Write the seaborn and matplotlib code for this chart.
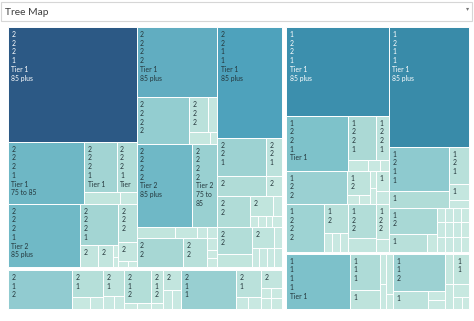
import matplotlib
matplotlib.use("Agg")
import matplotlib.pyplot as plt
import seaborn as sns
from matplotlib.patches import Rectangle
from matplotlib.colors import LinearSegmentedColormap
from matplotlib.textpath import TextPath
from matplotlib.font_manager import FontProperties

# ---------------- data ----------------
title = "Tree Map"
age_names = ["85 plus", "75 to 85", "65 to 75", "55 to 65", "45 to 55", "Under 45"]

codes = (["2221"] * 16 + ["2222"] * 17 + ["2211"] * 5 + ["2212"] * 9 + ["2211"] * 6
         + ["2122"] * 4 + ["2121"] * 3 + ["2122"] * 5 + ["2121"] * 3
         + ["2111"] + ["2112"] * 3 + ["2111"] * 5
         + ["1221"] * 7 + ["1222"] * 6 + ["1221"] * 2 + ["1222"] * 9
         + ["1211"] * 3 + ["1212"] * 4 + ["1211"] * 14
         + ["1111"] * 7 + ["1121"] * 4 + ["1122"] * 6)

tiers = [
    1, 1, 1, 1, 1, 1,
    2, 2, 2, 2, 2, 2, 3, 3, 3, 3,
    1, 1, 1, 1, 1, 1,
    2, 2, 2, 2, 2, 2, 3, 3, 3, 3, 3,
    1, 1, 2, 1, 2,
    1, 1, 1, 2, 2, 2, 2, 1, 3,
    2, 2, 3, 3, 3, 3,
    1, 1, 2, 2,
    1, 1, 2,
    1, 1, 2, 3, 3,
    1, 2, 2,
    1, 1, 1, 2, 1, 2, 2, 3, 3,
    1, 1, 1, 1, 2, 2, 2,
    1, 1, 1, 1, 2, 2, 3, 3,
    2, 2, 3, 3, 3, 3, 3, 1, 2,
    1, 1, 2, 1, 1, 2, 1, 1, 1,
    2, 2, 2, 2, 3, 3, 3, 3, 3, 3, 2, 2,
    1, 1, 2, 2, 2, 3, 3,
    1, 2, 2, 3, 1, 1, 2, 2, 3, 3,
]

age_idx = [
    0, 1, 2, 3, 4, 5,
    0, 1, 2, 3, 4, 5, 0, 1, 2, 3,
    0, 1, 2, 3, 4, 5,
    0, 1, 2, 3, 4, 5, 0, 1, 2, 3, 4,
    0, 1, 0, 2, 1,
    0, 1, 2, 0, 1, 2, 3, 3, 0,
    2, 3, 0, 1, 2, 3,
    0, 1, 0, 1,
    0, 1, 0,
    2, 3, 2, 0, 1,
    2, 1, 2,
    0, 0, 1, 0, 1, 0, 1, 0, 1,
    0, 1, 2, 3, 0, 1, 2,
    0, 1, 2, 3, 0, 1, 0, 1,
    2, 3, 0, 1, 2, 3, 4, 4, 4,
    0, 1, 0, 0, 1, 0, 2, 2, 3,
    0, 1, 2, 3, 0, 1, 2, 3, 4, 5, 4, 5,
    0, 1, 0, 1, 2, 0, 1,
    0, 0, 1, 0, 0, 1, 0, 1, 0, 1,
]

values = [
    # 2-2-2-1
    14700, 4710, 1610, 990, 430, 200,
    4570, 1560, 390, 345, 55, 50, 700, 343, 60, 55,
    # 2-2-2-2
    5650, 2410, 655, 330, 250, 80,
    4630, 2070, 437, 250, 115, 115, 1343, 696, 120, 80, 90,
    # 2-2-1-x
    7085, 1860, 600, 986, 320,
    990, 430, 170, 90, 80, 70, 100, 952, 442,
    480, 170, 140, 140, 140, 140,
    # 2-1-2-x
    2480, 840, 204, 156,
    540, 130, 120,
    884, 78, 78, 408, 72,
    357, 171, 152,
    # 2-1-1-x
    2130, 672, 144, 144, 380, 100, 110, 100, 110,
    # 1-2-2-x
    9050, 3402, 1204, 580, 200, 120, 95,
    2039, 560, 110, 100, 90, 79, 273, 165,
    1800, 696, 160, 160, 148, 935, 370, 455, 176,
    # 1-2-1-x
    9500, 2639, 1008, 722, 304, 152, 1264, 700, 180,
    120, 115, 115, 110, 120, 115, 115, 110, 120, 115, 115, 110,
    # 1-1-1-x
    3500, 1044, 551, 180, 150, 280, 105,
    # 1-1-2-x
    1935, 630, 153, 153, 240, 200, 450, 195, 96, 84,
]

# ---------------- layout structure (leaves consumed in order) ----------------
L = None
def C(*kids, gap=0.0):
    return ("c", list(kids), gap)
def R(*kids, gap=0.0):
    return ("r", list(kids), gap)

T2221 = R(R(L, C(L, R(C(L, L), C(L, L)))),
          C(L, R(L, C(L, L, R(L, L))), R(L, L, C(L, L))))
T2222 = R(R(L, C(L, R(C(L, L), C(L, L)))),
          R(C(L, L), C(L, L, L, L), C(L, L, R(L, L, L))))
LT31 = R(L, C(L, L), C(L, L), C(L, R(C(L, L), C(L, L, L, L))),
         C(R(L, L), R(C(L, L), C(L, L, L, L))))
LT = C(C(T2221, T2222), LT31)
LB2 = C(L, R(L, C(L, L)), R(L, C(L, L)), R(L, C(L, L)), R(L, L), R(L, C(L, L)))
LB1 = C(L, R(L, C(L, L)), R(L, C(R(L, L), R(L, L))))
LB = C(LB2, LB1)
LEFT = R(LT, LB, gap=2.6)

RT2 = R(L, C(L, R(C(L, L), C(L, L, L))),
        C(L, C(R(L, C(L, L)), R(L, L), R(L, L))),
        C(L, R(L, C(L, L, L)), R(L, L), R(L, L)))
RT1 = R(L, C(R(L, L), R(L, L, L)),
        C(R(L, C(L, L)), R(C(L, L, L, L), C(L, L, L, L), C(L, L, L, L))))
RT = C(RT2, RT1)
RB1 = C(L, R(L, L), C(R(L, L), R(L, L)))
RB2 = C(R(L, C(L, R(L, L))), R(L, L), R(L, L, C(L, L)))
RB = C(RB1, RB2)
RIGHT = R(RT, RB, gap=1.8)
ROOT = C(LEFT, RIGHT, gap=4.5)


def index_tree(node, it):
    if node is None:
        return next(it)
    kind, kids, gap = node
    return (kind, [index_tree(k, it) for k in kids], gap)


counter = iter(range(len(values)))
tree = index_tree(ROOT, counter)
assert next(counter, None) is None


def total(node):
    if isinstance(node, int):
        return values[node]
    return sum(total(k) for k in node[1])


def layout(node, x, y, w, h, out):
    if isinstance(node, int):
        out.append((node, x, y, w, h))
        return
    kind, kids, gap = node
    tot = total(node)
    length = (w if kind == "c" else h) - gap * (len(kids) - 1)
    pos = x if kind == "c" else y
    for k in kids:
        s = total(k) / tot * length
        if kind == "c":
            layout(k, pos, y, s, h, out)
        else:
            layout(k, x, pos, w, s, out)
        pos += s + gap


# ---------------- drawing ----------------
sns.set_theme(style="white")
plt.rcParams["font.family"] = ["Lato", "DejaVu Sans"]

DPI = 100
fig = plt.figure(figsize=(4.74, 3.21), dpi=DPI)
ax = fig.add_axes([0, 0, 1, 1])
ax.set_xlim(0, 474)
ax.set_ylim(321, 0)
ax.axis("off")

# title bar
ax.add_patch(Rectangle((1.5, 1.5), 471, 19.3, facecolor="white",
                       edgecolor="#d6d6d6", lw=0.8))
ax.text(5.0, 15.0, title, fontsize=7.4, color="#3f3f3f", va="baseline", ha="left")
ax.text(467.5, 8.5, "\u25be", fontsize=4.5, color="#777777", va="center",
        ha="center", family="DejaVu Sans")

stops = [(0.0, "#cbeae2"), (0.03, "#c0e4dd"), (0.08, "#aad9d5"),
         (0.165, "#92ccd0"), (0.23, "#7ec2ca"), (0.31, "#70b9c6"),
         (0.38, "#62aec1"), (0.48, "#4ea2bc"), (0.63, "#3a8dab"),
         (1.0, "#2c5985")]
cmap = LinearSegmentedColormap.from_list("blue_teal", stops)

FS = 4.9
fp = FontProperties(family="Lato", size=FS)
FS_PX = FS * DPI / 72.0


def text_w(s):
    return TextPath((0, 0), s, size=FS_PX, prop=fp).get_extents().width


def wrap(parts, avail):
    lines = []
    for p in parts:
        cur = ""
        for word in p.split():
            cand = (cur + " " + word).strip()
            if text_w(cand) <= avail:
                cur = cand
            else:
                if not cur or text_w(word) > avail:
                    if cur:
                        lines.append(cur)
                    return lines
                lines.append(cur)
                cur = word
        if cur:
            lines.append(cur)
    return lines


cells = []
layout(tree, 8.0, 27.0, 460.6, 281.6, cells)
vmax = max(values)
LINE = 8.7
for i, x, y, w, h in cells:
    v = values[i]
    ax.add_patch(Rectangle((x, y), w, h, facecolor=cmap(v / vmax),
                           edgecolor="white", lw=0.7))
    if w < 10:
        continue
    n_fit = int((h - 13.8) // LINE) + 1 if h >= 13.8 else 0
    if n_fit <= 0:
        continue
    parts = list(codes[i]) + [f"Tier {tiers[i]}", age_names[age_idx[i]]]
    lines = wrap(parts, w - 6.0)[:n_fit]
    tc = "#ffffff" if v >= 8000 else "#24363b"
    for j, s in enumerate(lines):
        ax.text(x + 3.5, y + 10.0 + j * LINE, s, fontsize=FS, color=tc,
                va="baseline", ha="left")

fig.savefig("out.png", dpi=DPI, facecolor="white")
